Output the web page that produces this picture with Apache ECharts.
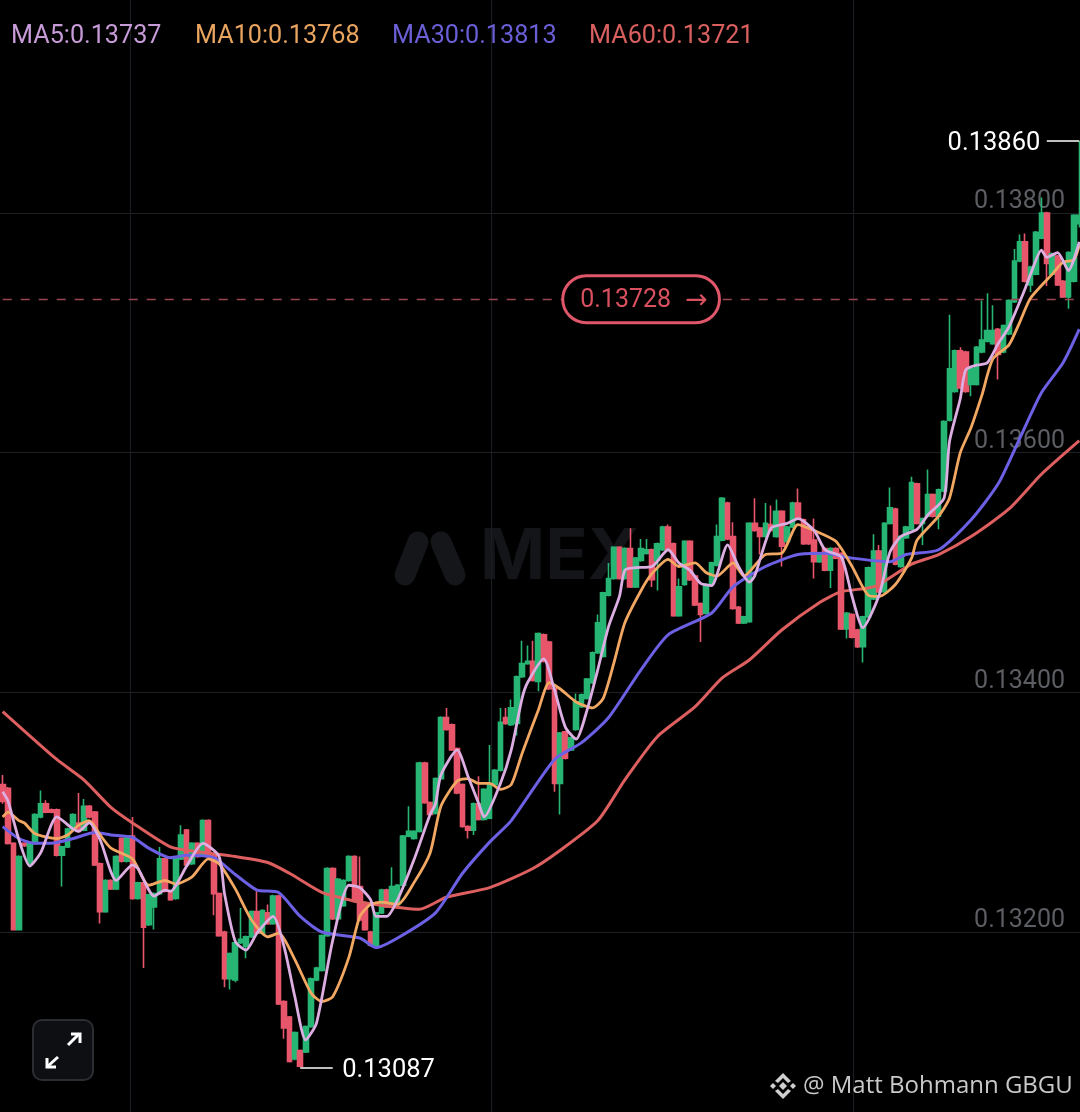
<!DOCTYPE html>
<html>
<head>
<meta charset="utf-8">
<style>html,body{margin:0;padding:0;background:#000}#c{width:1080px;height:1112px}</style>
<script src="https://cdn.jsdelivr.net/npm/echarts@6/dist/echarts.min.js"></script>
</head>
<body>
<div id="c"></div>
<script>
// Prices in units of 0.00001
const opens = [
13323,13320,13274,13202,13274,13257,13274,13296,13307,13302,
13302,13264,13271,13286,13291,13285,13305,13300,13257,13217,
13243,13236,13278,13259,13280,13228,13241,13206,13221,13232,
13261,13234,13228,13261,13285,13257,13274,13264,13293,13264,
13232,13200,13161,13160,13191,13188,13196,13217,13199,13216,
13207,13230,13142,13129,13094,13101,13100,13121,13160,13168,
13197,13253,13211,13222,13243,13263,13238,13224,13200,13189,
13216,13235,13223,13223,13239,13280,13278,13284,13341,13308,
13299,13328,13379,13373,13353,13323,13288,13285,13307,13294,
13295,13323,13335,13379,13373,13374,13413,13424,13426,13409,
13448,13442,13403,13324,13367,13352,13369,13388,13395,13408,
13433,13430,13481,13495,13521,13495,13520,13488,13510,13516,
13519,13510,13519,13538,13524,13464,13490,13526,13497,13474,
13466,13490,13506,13527,13558,13530,13471,13458,13459,13541,
13537,13530,13540,13530,13551,13526,13538,13558,13544,13538,
13527,13509,13520,13502,13520,13516,13453,13465,13452,13438,
13463,13478,13518,13484,13541,13553,13505,13529,13536,13574,
13541,13547,13565,13547,13568,13627,13651,13685,13684,13657,
13657,13684,13693,13691,13703,13684,13699,13726,13760,13776,
13740,13749,13779,13800,13749,13764,13743,13730,13743,13791];
const closes = [
13309,13274,13202,13263,13272,13274,13298,13307,13300,13300,
13264,13271,13286,13298,13284,13305,13296,13256,13217,13243,
13236,13263,13259,13280,13228,13241,13204,13231,13232,13261,
13234,13227,13261,13281,13256,13274,13263,13293,13263,13232,
13197,13161,13182,13191,13194,13196,13217,13199,13218,13207,
13230,13140,13120,13092,13116,13088,13121,13161,13170,13197,
13253,13211,13244,13243,13263,13227,13210,13202,13189,13216,
13235,13221,13238,13239,13280,13284,13284,13341,13308,13298,
13328,13379,13369,13352,13316,13288,13285,13307,13294,13319,
13323,13335,13375,13374,13387,13413,13424,13426,13410,13449,
13426,13403,13324,13366,13345,13362,13392,13398,13411,13433,
13458,13483,13495,13521,13495,13520,13488,13512,13520,13519,
13494,13524,13538,13519,13464,13488,13526,13494,13473,13465,
13490,13508,13530,13562,13528,13470,13458,13463,13541,13535,
13530,13541,13535,13551,13522,13538,13558,13545,13524,13524,
13509,13516,13502,13520,13512,13453,13466,13446,13438,13463,
13504,13518,13484,13541,13554,13507,13530,13538,13575,13541,
13545,13565,13547,13569,13626,13670,13685,13654,13651,13670,
13688,13694,13702,13702,13682,13706,13727,13760,13776,13743,
13755,13784,13800,13758,13766,13740,13730,13767,13798,13798];
const lows = [
13307,13273,13202,13202,13271,13256,13273,13295,13299,13299,
13263,13238,13270,13285,13283,13284,13295,13255,13207,13216,
13235,13235,13258,13258,13227,13227,13170,13205,13202,13231,
13233,13226,13227,13260,13255,13256,13262,13263,13262,13214,
13196,13154,13152,13158,13190,13178,13195,13198,13198,13206,
13206,13139,13111,13091,13093,13087,13099,13120,13159,13167,
13196,13210,13210,13221,13242,13226,13209,13201,13188,13188,
13215,13220,13221,13222,13238,13279,13277,13283,13307,13297,
13298,13327,13368,13351,13315,13287,13278,13281,13293,13293,
13294,13322,13334,13373,13372,13364,13412,13423,13409,13401,
13425,13402,13317,13298,13344,13351,13368,13387,13394,13407,
13432,13429,13480,13494,13494,13494,13487,13487,13509,13515,
13488,13485,13518,13518,13463,13463,13489,13493,13472,13442,
13465,13489,13505,13526,13527,13469,13457,13457,13458,13534,
13515,13529,13534,13529,13505,13525,13537,13544,13523,13523,
13495,13508,13501,13487,13511,13452,13445,13445,13437,13425,
13462,13477,13483,13483,13540,13506,13504,13528,13535,13540,
13523,13546,13546,13536,13567,13626,13650,13653,13650,13647,
13656,13683,13692,13690,13661,13683,13698,13725,13759,13742,
13734,13748,13778,13739,13748,13739,13729,13720,13742,13788];
const highs = [
13331,13321,13275,13264,13275,13275,13299,13318,13310,13303,
13303,13272,13287,13299,13316,13311,13306,13301,13258,13244,
13244,13264,13279,13281,13296,13242,13242,13232,13233,13271,
13262,13235,13262,13289,13286,13275,13275,13294,13294,13265,
13233,13201,13183,13192,13220,13197,13218,13234,13219,13223,
13231,13231,13143,13130,13117,13102,13122,13162,13171,13198,
13254,13254,13245,13244,13264,13264,13263,13225,13201,13217,
13236,13236,13254,13240,13281,13305,13285,13342,13342,13309,
13329,13380,13387,13374,13354,13324,13289,13308,13330,13320,
13356,13336,13387,13387,13394,13414,13443,13439,13443,13450,
13449,13443,13404,13367,13368,13363,13399,13399,13412,13434,
13465,13484,13508,13522,13522,13521,13537,13513,13528,13528,
13520,13525,13539,13540,13525,13495,13527,13527,13498,13475,
13491,13509,13540,13563,13559,13542,13472,13464,13542,13562,
13538,13558,13556,13561,13552,13539,13559,13570,13545,13539,
13545,13517,13521,13521,13521,13517,13467,13466,13453,13464,
13505,13532,13523,13542,13571,13554,13531,13539,13580,13575,
13546,13586,13566,13570,13627,13715,13686,13688,13685,13671,
13689,13727,13733,13723,13704,13707,13728,13770,13782,13783,
13756,13785,13813,13801,13767,13765,13744,13768,13799,13860];

// Moving averages: [candle number, price]
const ma5 = [[0,13317],[1,13309],[3,13277],[5,13255],[7,13266],[10,13296],[13,13286],[14,13284],[16,13291],[18,13277],[21,13243],[24,13256],[25,13253],[28,13230],[30,13235],[31,13234],[34,13255],[37,13274],[40,13263],[41,13232],[43,13192],[45,13185],[47,13199],[50,13213],[52,13188],[54,13146],[56,13110],[58,13124],[61,13193],[64,13239],[66,13237],[68,13227],[69,13213],[71,13213],[73,13227],[76,13260],[79,13298],[80,13307],[81,13331],[84,13352],[86,13330],[88,13307],[89,13296],[92,13324],[94,13352],[96,13395],[97,13408],[100,13428],[102,13402],[104,13371],[106,13361],[108,13385],[110,13419],[112,13455],[114,13480],[115,13502],[117,13504],[120,13505],[123,13519],[125,13508],[127,13502],[129,13491],[131,13489],[134,13523],[136,13505],[138,13492],[139,13497],[142,13537],[145,13541],[147,13545],[150,13535],[152,13519],[155,13513],[157,13480],[159,13454],[162,13481],[164,13517],[166,13530],[169,13536],[171,13548],[174,13562],[175,13609],[177,13645],[178,13669],[180,13673],[182,13675],[184,13691],[186,13705],[189,13737],[190,13749],[192,13769],[193,13763],[195,13767],[197,13752],[199,13776]];
const ma10 = [[0,13296],[1,13300],[3,13293],[4,13291],[6,13282],[10,13278],[12,13281],[14,13289],[16,13293],[18,13281],[20,13270],[24,13261],[27,13239],[30,13243],[32,13240],[35,13246],[38,13261],[40,13257],[43,13236],[46,13210],[49,13196],[51,13199],[54,13177],[57,13149],[59,13142],[61,13146],[64,13179],[66,13213],[68,13223],[70,13225],[73,13223],[76,13241],[79,13266],[81,13305],[84,13326],[86,13328],[88,13324],[90,13324],[92,13319],[94,13323],[96,13349],[99,13385],[101,13408],[103,13403],[106,13392],[109,13387],[111,13395],[113,13425],[115,13458],[118,13485],[120,13499],[123,13511],[125,13505],[128,13508],[130,13500],[132,13497],[135,13508],[137,13497],[141,13515],[144,13516],[147,13540],[150,13535],[154,13526],[157,13505],[160,13481],[162,13480],[165,13490],[168,13512],[169,13527],[173,13547],[175,13562],[177,13600],[179,13621],[181,13648],[183,13678],[186,13690],[188,13709],[190,13729],[194,13749],[196,13759],[198,13761],[199,13773]];
const ma30 = [[0,13288],[3,13278],[6,13274],[9,13274],[13,13278],[17,13283],[20,13281],[24,13279],[27,13270],[31,13262],[34,13264],[39,13262],[43,13248],[47,13235],[51,13233],[55,13213],[59,13200],[66,13195],[69,13187],[73,13195],[80,13216],[85,13249],[90,13275],[94,13293],[102,13344],[107,13358],[112,13379],[118,13419],[123,13448],[131,13466],[135,13488],[141,13505],[147,13515],[152,13516],[157,13512],[164,13509],[167,13515],[173,13519],[179,13544],[184,13574],[188,13612],[192,13650],[196,13675],[199,13703]];
const ma60 = [[0,13384],[10,13344],[15,13327],[20,13304],[24,13291],[31,13271],[36,13267],[43,13263],[49,13258],[53,13249],[59,13233],[63,13228],[66,13225],[77,13219],[82,13229],[90,13237],[98,13253],[103,13268],[110,13293],[115,13327],[121,13363],[128,13388],[133,13412],[138,13427],[144,13452],[151,13475],[155,13484],[160,13487],[162,13490],[168,13507],[173,13515],[179,13530],[186,13553],[192,13582],[199,13610]];

const legendItems = ['MA5:0.13737','MA10:0.13768','MA30:0.13813','MA60:0.13721'];
const lastPrice = 13728;
const highMark = 13860, highIdx = 199, highLabelIdx = 193;
const lowMark = 13087, lowIdx = 55, lowLabelIdx = 61;
const pillIdx = 118;

const SCALE = 1e-5;
const price = v => +(v * SCALE).toFixed(5);
const pairs = a => a.map(p => [p[0], price(p[1])]);
const categories = opens.map((_, i) => String(i));
const candleData = opens.map((o, i) => [price(o), price(closes[i]), price(lows[i]), price(highs[i])]);

const FONT = 'Roboto';
const GREEN = '#27b574', RED = '#e8566b';
const legendColors = ['#c79ad8', '#e9a45f', '#6a5fd6', '#d9605f'];
const legendX = [11, 195, 392, 589];

const maSeries = (name, data, color, w) => ({
  name, type: 'line', data: pairs(data), xAxisIndex: 0, yAxisIndex: 0,
  showSymbol: false, smooth: 0.22, z: 5, silent: true,
  lineStyle: { color, width: w }
});

const chart = echarts.init(document.getElementById('c'), null, { width: 1080, height: 1112 });
chart.setOption({
  animation: false,
  backgroundColor: '#000',
  grid: [
    { left: 0, width: 1082, top: -26.66, height: 1198.33, containLabel: false, outerBoundsMode: 'none' },
    { left: -231.5, width: 1446, top: 0, height: 1112, containLabel: false, outerBoundsMode: 'none' }
  ],
  xAxis: [
    { type: 'category', gridIndex: 0, data: categories, boundaryGap: true,
      axisLabel: { show: false }, axisLine: { show: false }, axisTick: { show: false }, splitLine: { show: false } },
    { type: 'value', gridIndex: 1, min: 0, max: 4, interval: 1,
      axisLabel: { show: false }, axisLine: { show: false }, axisTick: { show: false },
      splitLine: { show: true, lineStyle: { color: '#1b1d25', width: 1 } } }
  ],
  yAxis: [
    { type: 'value', gridIndex: 0, position: 'right', min: 0.130, max: 0.140, interval: 0.002, scale: true,
      axisLine: { show: false }, axisTick: { show: false },
      splitLine: { show: true, lineStyle: { color: '#1e2026', width: 1 } },
      axisLabel: { inside: true, margin: 17, color: '#5c5e63', fontFamily: FONT, fontSize: 25,
        verticalAlign: 'bottom', lineHeight: 22, formatter: v => v.toFixed(5) } },
    { type: 'value', gridIndex: 1, min: 0, max: 1, show: false }
  ],
  title: legendItems.map((t, i) => ({
    text: t, left: legendX[i], top: 24, padding: 0,
    textStyle: { color: legendColors[i], fontFamily: FONT, fontWeight: 'normal', fontSize: 25.2 }
  })),
  graphic: [
    // watermark
    { type: 'line', z: 0, shape: { x1: 418, y1: 542, x2: 405, y2: 575 }, style: { stroke: '#151619', lineWidth: 21, lineCap: 'round' } },
    { type: 'line', z: 0, shape: { x1: 441, y1: 542, x2: 455, y2: 575 }, style: { stroke: '#151619', lineWidth: 21, lineCap: 'round' } },
    { type: 'text', z: 0, style: { x: 480, y: 558, text: 'MEX', fill: '#141519', font: 'bold 70px Inter', verticalAlign: 'middle', textVerticalAlign: 'middle' } },
    // expand button
    { type: 'rect', z: 10, shape: { x: 33, y: 1020, width: 60, height: 60, r: 9 }, style: { fill: '#0e0f12', stroke: '#2b2d33', lineWidth: 2 } },
    { type: 'line', z: 11, shape: { x1: 68, y1: 1045, x2: 79, y2: 1034 }, style: { stroke: '#fff', lineWidth: 3 } },
    { type: 'polyline', z: 11, shape: { points: [[71, 1034], [80, 1034], [80, 1043]] }, style: { stroke: '#fff', lineWidth: 3, fill: 'none' } },
    { type: 'line', z: 11, shape: { x1: 58, y1: 1057, x2: 48, y2: 1066 }, style: { stroke: '#fff', lineWidth: 3 } },
    { type: 'polyline', z: 11, shape: { points: [[47, 1058], [47, 1067], [56, 1067]] }, style: { stroke: '#fff', lineWidth: 3, fill: 'none' } },
    // attribution
    { type: 'polygon', z: 11, shape: { points: [[783, 1082], [787, 1086], [783, 1090], [779, 1086]] }, style: { fill: '#cfcfcf' } },
    { type: 'polygon', z: 11, shape: { points: [[773, 1083], [776, 1086], [773, 1089], [770, 1086]] }, style: { fill: '#cfcfcf' } },
    { type: 'polygon', z: 11, shape: { points: [[793, 1083], [796, 1086], [793, 1089], [790, 1086]] }, style: { fill: '#cfcfcf' } },
    { type: 'polygon', z: 11, shape: { points: [[783, 1073], [791, 1081], [788, 1083], [783, 1078], [778, 1083], [775, 1081]] }, style: { fill: '#cfcfcf' } },
    { type: 'polygon', z: 11, shape: { points: [[783, 1099], [791, 1091], [788, 1089], [783, 1094], [778, 1089], [775, 1091]] }, style: { fill: '#cfcfcf' } },
    { type: 'text', z: 11, style: { x: 803, y: 1086, text: '@ Matt Bohmann GBGU', fill: '#c9c9c9', font: '24px "Open Sans"', verticalAlign: 'middle', textVerticalAlign: 'middle' } }
  ],
  series: [
    { type: 'candlestick', name: 'price', data: candleData, xAxisIndex: 0, yAxisIndex: 0, barWidth: 5.2, z: 2, silent: true,
      itemStyle: { color: GREEN, color0: RED, borderColor: GREEN, borderColor0: RED, borderWidth: 1.6 },
      markLine: {
        silent: true, symbol: 'none', animation: false, z: 3,
        label: { show: false },
        data: [
          [{ coord: [0, price(lastPrice)], lineStyle: { color: '#9a4552', type: [9, 9], width: 1.4 } }, { coord: [199, price(lastPrice)] }],
          [{ coord: [highIdx, price(highMark)], lineStyle: { color: '#fff', type: 'solid', width: 1.5 } }, { coord: [highLabelIdx, price(highMark)] }],
          [{ coord: [lowIdx, price(lowMark)], lineStyle: { color: '#fff', type: 'solid', width: 1.5 } }, { coord: [lowLabelIdx, price(lowMark)] }]
        ]
      },
      markPoint: {
        silent: true, animation: false, symbol: 'circle', symbolSize: 1, z: 8,
        itemStyle: { color: 'transparent' },
        data: [
          { coord: [pillIdx, price(lastPrice)],
            label: { show: true, position: 'inside', formatter: price(lastPrice).toFixed(5) + ' {a|→}', color: '#d9505f', fontFamily: FONT, fontSize: 25,
              rich: { a: { fontFamily: 'DejaVu Sans', fontSize: 27, color: '#d9505f', padding: [0, 0, 0, 8] } },
              backgroundColor: '#000', borderColor: '#e0566a', borderWidth: 3, borderRadius: 23, padding: [10, 10, 7, 16] } },
          { coord: [highLabelIdx, price(highMark)],
            label: { show: true, position: 'left', distance: 6, offset: [0, 3], formatter: price(highMark).toFixed(5), color: '#fff', fontFamily: FONT, fontSize: 25.5 } },
          { coord: [lowLabelIdx, price(lowMark)],
            label: { show: true, position: 'right', distance: 9, offset: [0, 3], formatter: price(lowMark).toFixed(5), color: '#fff', fontFamily: FONT, fontSize: 25.5 } }
        ]
      }
    },
    maSeries('MA60', ma60, '#dd5f60', 3),
    maSeries('MA30', ma30, '#6c60e4', 3),
    maSeries('MA10', ma10, '#f2a862', 2.8),
    maSeries('MA5', ma5, '#dcaee2', 2.8)
  ]
});
</script>
</body>
</html>
